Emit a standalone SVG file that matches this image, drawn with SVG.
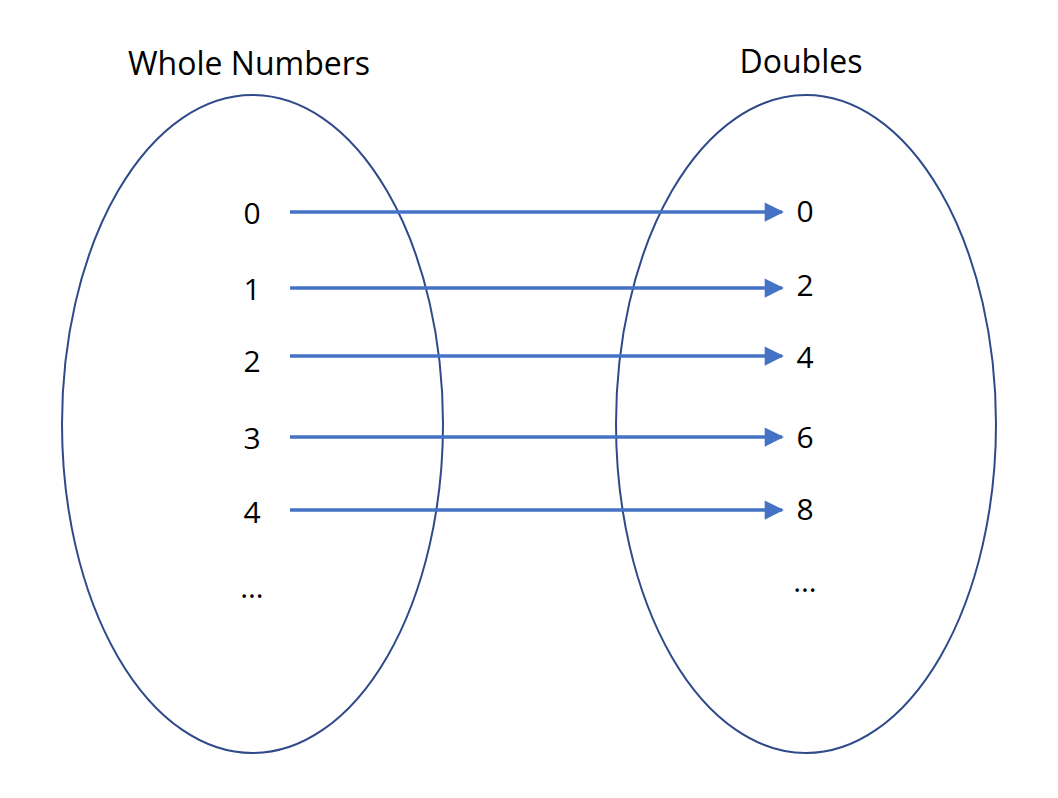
<svg xmlns="http://www.w3.org/2000/svg" width="1058" height="798" viewBox="0 0 1058 798">
<style>
.e{fill:none;stroke:#2F4A8A;stroke-width:2}
.a{stroke:#4472C4;stroke-width:3.5;fill:none;marker-end:url(#ah)}
text{font-family:"Open Sans","Noto Sans",sans-serif;fill:#000;text-anchor:middle}
.t{font-size:32px}
.n{font-size:30px}
</style>
<defs><marker id="ah" viewBox="0 0 10 10" refX="9" refY="5" markerWidth="6" markerHeight="5.5" orient="auto" markerUnits="strokeWidth"><path d="M0,0L10,5L0,10z" fill="#4472C4"/></marker></defs>
<rect width="1058" height="798" fill="#fff"/>
<g id="left"><ellipse class="e" cx="252.5" cy="424" rx="190.5" ry="329"/>
<text class="t" x="249" y="75">Whole Numbers</text>
<text class="n" x="252" y="224">0</text><text class="n" x="252" y="300">1</text><text class="n" x="252" y="372">2</text><text class="n" x="252" y="449">3</text><text class="n" x="252" y="523">4</text><text class="n" x="252" y="598">…</text></g>
<g id="right"><ellipse class="e" cx="806" cy="424" rx="190" ry="329"/>
<text class="t" x="801" y="73">Doubles</text>
<text class="n" x="805" y="222">0</text><text class="n" x="805" y="296">2</text><text class="n" x="805" y="368">4</text><text class="n" x="805" y="448">6</text><text class="n" x="805" y="520">8</text><text class="n" x="805" y="592">…</text></g>
<g id="connectors">
<line class="a" x1="290" y1="212" x2="782" y2="212"/>
<line class="a" x1="290" y1="288" x2="782" y2="288"/>
<line class="a" x1="290" y1="356" x2="782" y2="356"/>
<line class="a" x1="290" y1="437" x2="782" y2="437"/>
<line class="a" x1="290" y1="510" x2="782" y2="510"/>
</g>
</svg>
